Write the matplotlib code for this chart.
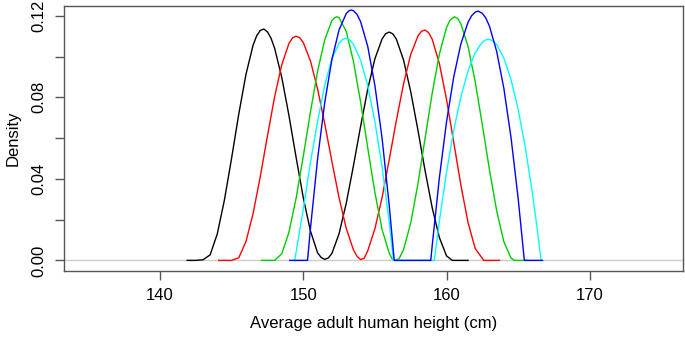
import matplotlib
matplotlib.use('Agg')
import matplotlib.pyplot as plt

plt.rcParams['font.family'] = ['Liberation Sans', 'DejaVu Sans']
plt.rcParams['font.size'] = 12

# density curves (height in cm, density)
black_x = [141.9, 142.5, 143.0, 143.5, 144.0, 144.5, 145.0, 145.5, 146.0, 146.5, 146.75, 147.0, 147.25,
           147.5, 147.75, 148.0, 148.5, 149.0, 149.5, 150.0, 150.5, 151.0, 151.25, 151.5, 151.75, 152.0,
           152.5, 153.0, 153.5, 154.0, 154.5, 155.0, 155.5, 155.75, 156.0, 156.25, 156.5, 157.0, 157.5,
           158.0, 158.5, 159.0, 159.5, 160.0, 160.4, 161.5]
black_y = [0, 0, 0.0003, 0.0027, 0.0130, 0.0297, 0.0502, 0.0718, 0.0912, 0.1056, 0.1102, 0.1128, 0.1135,
           0.1121, 0.1090, 0.1041, 0.0898, 0.0711, 0.0506, 0.0308, 0.0145, 0.0037, 0.0014, 0.0005, 0.0012, 0.0034,
           0.0131, 0.0280, 0.0463, 0.0657, 0.0840, 0.0989, 0.1086, 0.1112, 0.1120, 0.1111, 0.1085, 0.0983, 0.0828,
           0.0640, 0.0441, 0.0258, 0.0112, 0.0022, 0, 0]

red_x = [144.1, 145.0, 145.5, 146.0, 146.5, 147.0, 147.5, 148.0, 148.5, 149.0, 149.25, 149.5, 149.75,
         150.0, 150.5, 151.0, 151.5, 152.0, 152.5, 153.0, 153.5, 153.75, 154.0, 154.25, 154.5, 155.0,
         155.5, 156.0, 156.5, 157.0, 157.5, 158.0, 158.25, 158.5, 158.75, 159.0, 159.5, 160.0, 160.5,
         161.0, 161.5, 162.0, 162.6, 163.7]
red_y = [0, 0, 0.0013, 0.0092, 0.0230, 0.0411, 0.0610, 0.0802, 0.0960, 0.1064, 0.1091, 0.1100, 0.1092,
         0.1069, 0.0979, 0.0841, 0.0670, 0.0485, 0.0307, 0.0157, 0.0052, 0.0020, 0.0004, 0.0010, 0.0047, 0.0155,
         0.0308, 0.0494, 0.0687, 0.0866, 0.1010, 0.1100, 0.1124, 0.1130, 0.1117, 0.1085, 0.0966, 0.0789, 0.0580,
         0.0370, 0.0186, 0.0058, 0, 0]

green_x = [147.1, 148.0, 148.5, 149.0, 149.5, 150.0, 150.5, 151.0, 151.5, 152.0, 152.2, 152.35, 152.5,
           153.0, 153.5, 154.0, 154.5, 155.0, 155.5, 156.0, 156.2, 156.45, 156.7, 157.0, 157.5, 158.0,
           158.5, 159.0, 159.5, 160.0, 160.25, 160.55, 160.8, 161.0, 161.5, 162.0, 162.5, 163.0, 163.5,
           164.0, 164.5, 164.75, 165.55]
green_y = [0, 0, 0.0032, 0.0138, 0.0305, 0.0510, 0.0727, 0.0928, 0.1083, 0.1176, 0.1191, 0.1195, 0.1191,
           0.1123, 0.0977, 0.0778, 0.0552, 0.0333, 0.0152, 0.0035, 0.0008, 0, 0.0010, 0.0053, 0.0183, 0.0374,
           0.0598, 0.0820, 0.1012, 0.1143, 0.1179, 0.1195, 0.1185, 0.1161, 0.1050, 0.0877, 0.0664, 0.0443, 0.0243,
           0.0092, 0.0011, 0, 0]

blue_x = [149.06, 150.3, 150.5, 151.0, 151.5, 152.0, 152.5, 153.0, 153.2, 153.36, 153.5, 153.75, 154.0,
          154.5, 155.0, 155.5, 156.0, 156.35, 158.9, 159.0, 159.5, 160.0, 160.5, 161.0, 161.5, 161.75,
          162.0, 162.2, 162.5, 162.75, 163.0, 163.5, 164.0, 164.5, 165.0, 165.43, 166.7]
blue_y = [0, 0, 0.0155, 0.0498, 0.0775, 0.0986, 0.1131, 0.1211, 0.1225, 0.1228, 0.1225, 0.1207, 0.1172,
          0.1050, 0.0858, 0.0600, 0.0270, 0, 0, 0.0073, 0.0405, 0.0680, 0.0899, 0.1062, 0.1168, 0.1200,
          0.1218, 0.1223, 0.1212, 0.1188, 0.1148, 0.1025, 0.0844, 0.0603, 0.0303, 0, 0]

cyan_x = [149.4, 149.5, 150.0, 150.5, 151.0, 151.5, 152.0, 152.5, 152.75, 152.95, 153.25, 153.5, 154.0,
          154.5, 155.0, 155.5, 156.0, 156.3, 159.15, 159.5, 160.0, 160.5, 161.0, 161.5, 162.0, 162.5,
          162.75, 162.93, 163.25, 163.5, 164.0, 164.5, 165.0, 165.5, 166.0, 166.3, 166.6]
cyan_y = [0, 0.004, 0.025, 0.048, 0.068, 0.086, 0.099, 0.1065, 0.1084, 0.109, 0.1081, 0.106, 0.0983,
          0.0857, 0.0681, 0.0459, 0.0187, 0, 0, 0.0192, 0.0433, 0.0637, 0.0802, 0.0930, 0.1019, 0.1071,
          0.1082, 0.1085, 0.1077, 0.1059, 0.0993, 0.0887, 0.0740, 0.0553, 0.0326, 0.0170, 0]

x_ticks = [140, 150, 160, 170]
y_ticks = [0.00, 0.02, 0.04, 0.06, 0.08, 0.10, 0.12]
y_ticklabels = ['0.00', '', '0.04', '', '0.08', '', '0.12']

fig = plt.figure(figsize=(6.85, 3.4), dpi=100)
ax = fig.add_axes([0.0934, 0.203, 0.9036, 0.7794])

# zero line under everything
ax.axhline(0, color='#cccccc', lw=1.0, zorder=1)

# R default palette
curves = [(black_x, black_y, 'black'),
          (red_x, red_y, '#FF0000'),
          (green_x, green_y, '#00CD00'),
          (cyan_x, cyan_y, '#00FFFF'),
          (blue_x, blue_y, '#0000FF')]
for xs, ys, col in curves:
    ax.plot(xs, ys, color=col, lw=1.0, zorder=2, solid_joinstyle='round')

ax.set_xlim(133.3, 176.5)
ax.set_ylim(-0.0052, 0.1248)

ax.set_xticks(x_ticks)
ax.set_yticks(y_ticks)
ax.set_yticklabels(y_ticklabels, rotation=90, va='center')

for s in ax.spines.values():
    s.set_color('#555555')
    s.set_linewidth(1.0)
ax.tick_params(direction='out', length=6.5, width=1.0, color='#555555', pad=6, labelsize=12)

ax.set_xlabel('Average adult human height (cm)', fontsize=12, labelpad=9)
ax.set_ylabel('Density', fontsize=12, labelpad=8)

fig.savefig('out.png', dpi=100)
